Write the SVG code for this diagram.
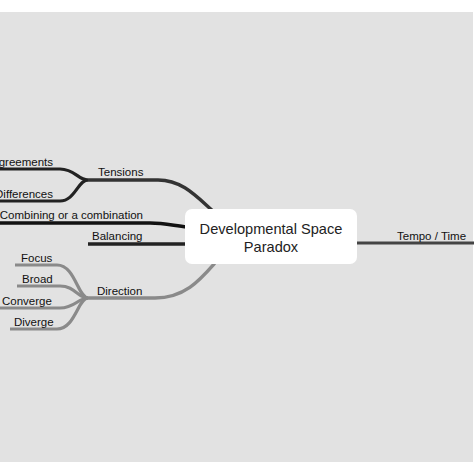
<svg xmlns="http://www.w3.org/2000/svg" width="474" height="474" viewBox="0 0 474 474">
<style>
.lbl{font-family:"Liberation Sans",Arial,sans-serif;font-size:11.5px;fill:#111}
.ctr{font-family:"Liberation Sans",Arial,sans-serif;font-size:14.6px;fill:#222;text-anchor:middle}
.c{fill:none;stroke-linecap:butt}
</style>
<rect x="0" y="12" width="473" height="450" fill="#e2e2e2"/>
<g id="connectors">
<path class="c" d="M0,169 H60 C75,169 78,180 88,180" stroke="#222" stroke-width="3.2"/>
<path class="c" d="M0,201 H60 C75,201 78,180 88,180" stroke="#222" stroke-width="3.2"/>
<path class="c" d="M88,180 H158 C182,180 196,196 214,212" stroke="#333" stroke-width="3.4"/>
<path class="c" d="M0,223 H150 C165,223 175,226 187,227" stroke="#111" stroke-width="3.4"/>
<path class="c" d="M88,244 H187" stroke="#222" stroke-width="3.4"/>
<path class="c" d="M15,265 H57 C75,265 78,298 88,298" stroke="#8a8a8a" stroke-width="3.2"/>
<path class="c" d="M17,286 H60 C75,286 78,298 88,298" stroke="#8a8a8a" stroke-width="3.2"/>
<path class="c" d="M0,308 H60 C75,308 78,298 88,298" stroke="#8a8a8a" stroke-width="3.2"/>
<path class="c" d="M10,329 H57 C75,329 78,298 88,298" stroke="#8a8a8a" stroke-width="3.2"/>
<path class="c" d="M88,298 H155 C185,298 200,280 215,263" stroke="#8a8a8a" stroke-width="3.4"/>
<path class="c" d="M356,243 H474" stroke="#444" stroke-width="3.2"/>
</g>
<g id="center">
<rect x="185" y="209" width="172" height="55" rx="7" fill="#ffffff"/>
<text class="ctr" x="271" y="234">Developmental Space</text>
<text class="ctr" x="271" y="252">Paradox</text>
</g>
<g id="agreements"><text class="lbl" x="53" y="166" text-anchor="end">greements</text></g>
<g id="differences"><text class="lbl" x="53" y="198" text-anchor="end">Differences</text></g>
<g id="tensions"><text class="lbl" x="98" y="176">Tensions</text></g>
<g id="combining"><text class="lbl" x="143" y="219" text-anchor="end">Combining or a combination</text></g>
<g id="balancing"><text class="lbl" x="92" y="240">Balancing</text></g>
<g id="focus"><text class="lbl" x="21" y="262">Focus</text></g>
<g id="broad"><text class="lbl" x="22" y="283">Broad</text></g>
<g id="converge"><text class="lbl" x="2" y="305">Converge</text></g>
<g id="diverge"><text class="lbl" x="14" y="326">Diverge</text></g>
<g id="direction"><text class="lbl" x="97" y="295">Direction</text></g>
<g id="tempo"><text class="lbl" x="397" y="240">Tempo / Time</text></g>
</svg>
